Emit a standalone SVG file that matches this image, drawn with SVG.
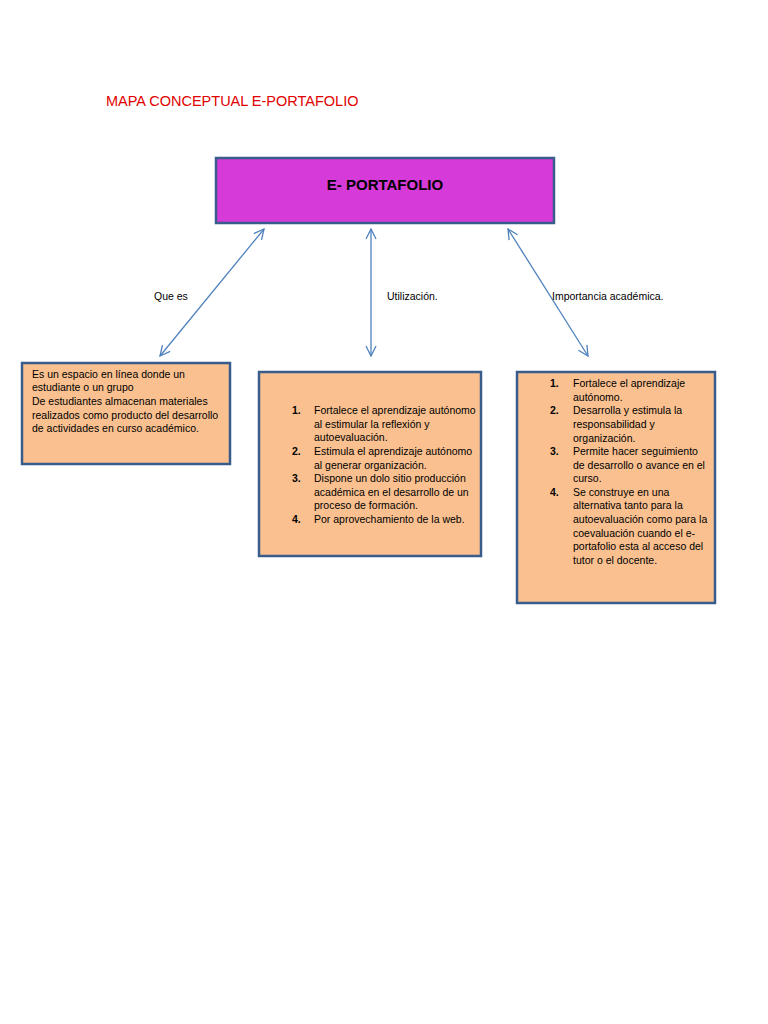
<svg xmlns="http://www.w3.org/2000/svg" width="768" height="1024" viewBox="0 0 768 1024">
<style>
text{font-family:"Liberation Sans",Arial,sans-serif;font-size:10.5px;fill:#000}
.box{fill:#fac090;stroke:#385d8a;stroke-width:2.5}
.b{font-weight:bold}
.c{stroke:#4f81bd;stroke-width:1.3;fill:none;marker-start:url(#a);marker-end:url(#a)}
</style>
<defs><marker id="a" viewBox="0 0 12 12" refX="11" refY="6" markerWidth="12" markerHeight="12" markerUnits="userSpaceOnUse" orient="auto-start-reverse"><path d="M1,1 L11,6 L1,11" fill="none" stroke="#4f81bd" stroke-width="1.3"/></marker></defs>
<rect width="768" height="1024" fill="#fff"/>
<text x="106" y="106" style="font-size:14.5px;fill:#e00000">MAPA CONCEPTUAL E-PORTAFOLIO</text>
<g id="root"><rect x="216" y="158" width="338" height="65" fill="#d63ad8" stroke="#385d8a" stroke-width="2.5"/><text x="385" y="190" text-anchor="middle" class="b" style="font-size:15px">E- PORTAFOLIO</text></g>
<g id="connectors">
<line class="c" x1="264" y1="229" x2="160" y2="356"/>
<line class="c" x1="371" y1="229" x2="371" y2="356"/>
<line class="c" x1="508" y1="229" x2="588" y2="356"/>
<text x="154" y="300">Que es</text>
<text x="387" y="300">Utilización.</text>
<text x="552" y="300">Importancia académica.</text>
</g>
<g id="que-es"><rect class="box" x="22" y="363" width="208" height="101"/>
<text x="32" y="378">Es un espacio en línea donde un</text>
<text x="32" y="391">estudiante o un grupo</text>
<text x="32" y="405">De estudiantes almacenan materiales</text>
<text x="32" y="419">realizados como producto del desarrollo</text>
<text x="32" y="432">de actividades en curso académico.</text></g>
<g id="utilizacion"><rect class="box" x="259" y="372" width="222" height="184"/>
<text x="292" y="414" class="b">1.</text><text x="314" y="414">Fortalece el aprendizaje autónomo</text>
<text x="314" y="428">al estimular la reflexión y</text>
<text x="314" y="441">autoevaluación.</text>
<text x="292" y="455" class="b">2.</text><text x="314" y="455">Estimula el aprendizaje autónomo</text>
<text x="314" y="469">al generar organización.</text>
<text x="292" y="482" class="b">3.</text><text x="314" y="482"> Dispone un dolo sitio producción</text>
<text x="314" y="496">académica en el desarrollo de un</text>
<text x="314" y="509">proceso de formación.</text>
<text x="292" y="523" class="b">4.</text><text x="314" y="523">Por aprovechamiento de la web.</text></g>
<g id="importancia"><rect class="box" x="517" y="372" width="198" height="231"/>
<text x="550" y="387" class="b">1.</text><text x="573" y="387">Fortalece el aprendizaje</text>
<text x="573" y="401">autónomo.</text>
<text x="550" y="414" class="b">2.</text><text x="573" y="414">Desarrolla y estimula la</text>
<text x="573" y="428">responsabilidad y</text>
<text x="573" y="442">organización.</text>
<text x="550" y="455" class="b">3.</text><text x="573" y="455">Permite hacer seguimiento</text>
<text x="573" y="469">de desarrollo o avance en el</text>
<text x="573" y="482">curso.</text>
<text x="550" y="496" class="b">4.</text><text x="573" y="496">Se construye en una</text>
<text x="573" y="509">alternativa tanto para la</text>
<text x="573" y="523">autoevaluación como para la</text>
<text x="573" y="537">coevaluación cuando el e-</text>
<text x="573" y="550">portafolio esta al acceso del</text>
<text x="573" y="564">tutor o el docente.</text></g>
</svg>
